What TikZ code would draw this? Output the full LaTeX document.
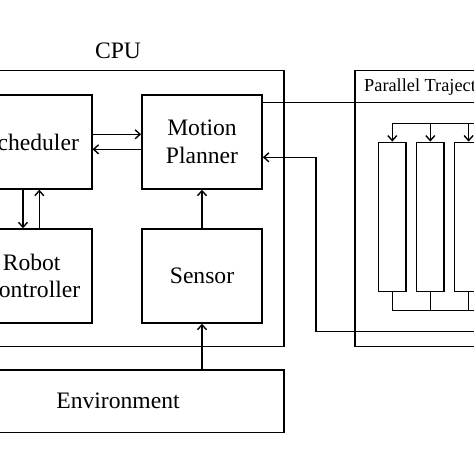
\documentclass[tikz,border=0pt]{standalone}
\usepackage{fontspec}
\setmainfont{Liberation Serif}
\usetikzlibrary{arrows.meta,calc}

\tikzset{
  blk/.style={draw, line width=1.4pt, minimum width=120.3pt, minimum height=94pt,
              align=center, inner sep=0pt, font=\fontsize{23.6}{27.5}\selectfont},
  colbox/.style={draw, line width=1.4pt, minimum width=27.7pt, minimum height=149.4pt, inner sep=0pt},
  arr/.style={-{Straight Barb[length=5pt,width=9pt,line width=1.4pt]}},
}

\begin{document}
\begin{tikzpicture}  % ------ CPU et trajectoires paralleles --------------
      [x=1pt, y=-1pt, line width=1.4pt]

    \clip (0,0) rectangle (474,474);

    % boites du CPU
    \draw (-48,70.7) rectangle (284,346.7);
    \node (cpu) at (118,51) {\fontsize{23.6}{27.5}\selectfont CPU};

    \node[blk] (sched)  at (31.7,142) {Scheduler};
    \node[blk] (mp)     at (202,142)  {Motion\\Planner};
    \node[blk] (rc)     at (31.7,276) {Robot\\Controller};
    \node[blk] (sensor) at (202,276)  {Sensor};
    \node[blk, minimum width=332pt, minimum height=62.3pt] (env) at (118,401.2) {Environment};

    % boite des trajectoires
    \draw (355,70.7) rectangle (530,346.7);
    \node[anchor=west, inner sep=0pt] (ptitle) at (363.5,87)
         {\fontsize{18.3}{22}\selectfont Parallel Trajectory};

    \coordinate (sepR) at (530,102.7);
    \coordinate (topR) at (530,123.3);
    \coordinate (botR) at (530,310.7);
    \coordinate (fbR)  at (530,331.7);

    \foreach \i/\x in {1/392.3, 2/430.3, 3/468.6}
      \node[colbox] (col\i) at (\x,217) {};

    % liaisons
    \draw[arr] ([yshift=7.7pt]sched.east) -- ([yshift=7.7pt]mp.west);
    \draw[arr] ([yshift=-7.3pt]mp.west) -- ([yshift=-7.3pt]sched.east);
    \draw[arr] ([xshift=-8.7pt]sched.south) -- ([xshift=-8.7pt]rc.north);
    \draw[arr] ([xshift=7.6pt]rc.north) -- ([xshift=7.6pt]sched.south);
    \draw[arr] (sensor.north) -- (mp.south);
    \draw[arr] (env.north -| sensor) -- (sensor.south);

    \draw ([yshift=39.3pt]mp.east) -- (sepR);
    \draw[arr] (fbR) -| ([xshift=53pt,yshift=-15.3pt]mp.east) -- ([yshift=-15.3pt]mp.east);

    \draw (col1.north |- topR) -- (topR);
    \draw (col1.south |- botR) -- (botR);
    \foreach \i in {1,2,3} {
      \draw[arr] (col\i.north |- topR) -- (col\i.north);
      \draw (col\i.south) -- (col\i.south |- botR);
    }
\end{tikzpicture}
\end{document}
